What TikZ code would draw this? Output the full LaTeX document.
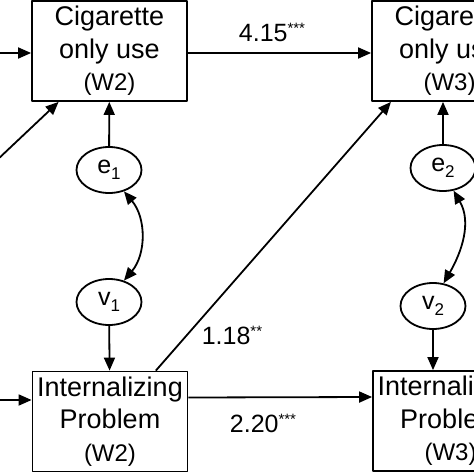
\documentclass[tikz,border=0pt]{standalone}
\usepackage{fontspec}
\setmainfont{Liberation Sans}
\usetikzlibrary{shapes.geometric,arrows.meta}
\newcommand{\wavelab}[1]{{\fontsize{24}{32.5}\selectfont(W#1)}}
\newcommand{\errlab}[2]{#1\raisebox{-0.45ex}{\fontsize{17}{17}\selectfont #2}}
\newcommand{\coeflab}[2]{#1\raisebox{0.6ex}{\fontsize{15}{15}\selectfont #2}}
\begin{document}
\begin{tikzpicture}[x=1pt, y=1pt, line width=1.8pt, line join=round, >={Triangle[length=13pt,width=11pt]},
varbox/.style={draw, minimum width=155pt, minimum height=100pt, inner sep=0pt, align=center, font=\fontsize{27}{32.5}\selectfont},
errnode/.style={ellipse, draw, minimum width=65pt, minimum height=46pt, inner sep=0pt, font=\fontsize{25}{25}\selectfont},
coefnode/.style={font=\fontsize{25}{25}\selectfont, inner sep=0pt}]
\useasboundingbox (0,0) rectangle (474,-474);
\clip (0,0) rectangle (474,-474);
%Các biến quan sát
\node[varbox] (cig2) at (109.5,-51) {Cigarette\\only use\\\wavelab{2}};
\node[varbox] (cig3) at (449.5,-51) {Cigarette\\only use\\\wavelab{3}};
\node[varbox] (int2) at (110,-421.5) {Internalizing\\Problem\\\wavelab{2}};
\node[varbox] (int3) at (450.5,-421) {Internalizing\\Problem\\\wavelab{3}};
%Sai số
\node[errnode] (e1) at (109,-170) {\errlab{e}{1}};
\node[errnode] (v1) at (109,-302) {\errlab{v}{1}};
\node[errnode] (e2) at (443,-168) {\errlab{e}{2}};
\node[errnode] (v2) at (433,-306) {\errlab{v}{2}};
%Điểm ngoài khung
\coordinate (cig1) at (-40,-53);
\coordinate (int1) at (-40,-400);
\coordinate (diag1) at (-40,-195);
%Mũi tên
\draw[->] (cig1) -- (cig2.west |- cig1);
\draw[->] (int1) -- (int2.west |- int1);
\draw[->] (diag1) -- (cig2.-135);
\draw[->] (cig2.east |- cig1) -- (cig3.west |- cig1);
\draw[->] ([yshift=24pt]int2.east) -- ([yshift=24pt]int3.west);
\draw[->] (int2.48) -- (cig3.-139);
\draw[->] (e1) -- (cig2);
\draw[->] (v1) -- (int2);
\draw[->] (e2.north) -- (e2.north |- cig3.south);
\draw[->] (v2.south) -- (v2.south |- int3.north);
\draw[<->] (e1.-55) to[out=-50, in=50] (v1.55);
\draw[<->] (e2.-65) to[out=-60, in=60] (v2.65);
%Hệ số
\node[coefnode] (b415) at (272,-32) {\coeflab{4.15}{***}};
\node[coefnode] (b118) at (232,-335) {\coeflab{1.18}{**}};
\node[coefnode] (b220) at (263,-423) {\coeflab{2.20}{***}};
\end{tikzpicture}
\end{document}
